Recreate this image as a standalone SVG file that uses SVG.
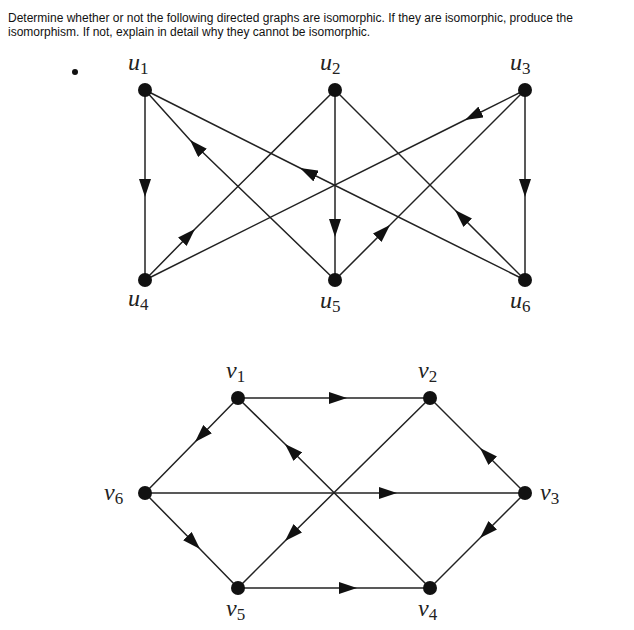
<svg xmlns="http://www.w3.org/2000/svg" width="634" height="630" viewBox="0 0 634 630">
<style>
.e{stroke:#222;stroke-width:1.5;fill:none;marker-mid:url(#a)}
.n{fill:#111}
.l{font-family:"Liberation Serif",serif;font-style:italic;font-size:24px;fill:#222}
.s{font-style:normal;font-size:17px}
.h{font-family:"Liberation Sans",Arial,sans-serif;font-size:12px;fill:#111}
</style>
<defs><marker id="a" markerWidth="20" markerHeight="12" refX="18" refY="6" orient="auto" markerUnits="userSpaceOnUse"><path d="M0,0 L18,6 L0,12 Z" fill="#111"/></marker></defs>
<rect width="634" height="630" fill="#fff"/>
<text class="h" x="8" y="22">Determine whether or not the following directed graphs are isomorphic. If they are isomorphic, produce the</text>
<text class="h" x="8" y="36">isomorphism. If not, explain in detail why they cannot be isomorphic.</text>
<circle cx="75" cy="72" r="3" fill="#111"/>
<g id="connectors">
<polyline class="e" points="145,90 145,197 145,280"/>
<polyline class="e" points="335,280 190,140 145,90"/>
<polyline class="e" points="525,280 300,168 145,90"/>
<polyline class="e" points="145,280 195,229 335,90"/>
<polyline class="e" points="335,90 335,237 335,280"/>
<polyline class="e" points="525,280 455,210 335,90"/>
<polyline class="e" points="525,90 465,120 145,280"/>
<polyline class="e" points="335,280 390,225 525,90"/>
<polyline class="e" points="525,90 525,197 525,280"/>
<polyline class="e" points="238,398 347,398 430,398"/>
<polyline class="e" points="238,398 195,442 145,493"/>
<polyline class="e" points="430,588 285,444 238,398"/>
<polyline class="e" points="525,493 480,448 430,398"/>
<polyline class="e" points="430,398 285,541 238,588"/>
<polyline class="e" points="145,493 397,493 525,493"/>
<polyline class="e" points="145,493 200,549 238,588"/>
<polyline class="e" points="238,588 357,588 430,588"/>
<polyline class="e" points="525,493 480,538 430,588"/>
</g>
<g id="u1"><circle class="n" cx="145" cy="90" r="7"/><text class="l" x="128" y="70">u<tspan class="s" dy="4">1</tspan></text></g>
<g id="u2"><circle class="n" cx="335" cy="90" r="7"/><text class="l" x="320" y="70">u<tspan class="s" dy="4">2</tspan></text></g>
<g id="u3"><circle class="n" cx="525" cy="90" r="7"/><text class="l" x="510" y="70">u<tspan class="s" dy="4">3</tspan></text></g>
<g id="u4"><circle class="n" cx="145" cy="280" r="7"/><text class="l" x="128" y="306">u<tspan class="s" dy="4">4</tspan></text></g>
<g id="u5"><circle class="n" cx="335" cy="280" r="7"/><text class="l" x="320" y="308">u<tspan class="s" dy="4">5</tspan></text></g>
<g id="u6"><circle class="n" cx="525" cy="280" r="7"/><text class="l" x="510" y="308">u<tspan class="s" dy="4">6</tspan></text></g>
<g id="v1"><circle class="n" cx="238" cy="398" r="7"/><text class="l" x="226" y="378">v<tspan class="s" dy="4">1</tspan></text></g>
<g id="v2"><circle class="n" cx="430" cy="398" r="7"/><text class="l" x="418" y="378">v<tspan class="s" dy="4">2</tspan></text></g>
<g id="v3"><circle class="n" cx="525" cy="493" r="7"/><text class="l" x="540" y="500">v<tspan class="s" dy="4">3</tspan></text></g>
<g id="v4"><circle class="n" cx="430" cy="588" r="7"/><text class="l" x="418" y="616">v<tspan class="s" dy="4">4</tspan></text></g>
<g id="v5"><circle class="n" cx="238" cy="588" r="7"/><text class="l" x="226" y="616">v<tspan class="s" dy="4">5</tspan></text></g>
<g id="v6"><circle class="n" cx="145" cy="493" r="7"/><text class="l" x="104" y="500">v<tspan class="s" dy="4">6</tspan></text></g>
</svg>
